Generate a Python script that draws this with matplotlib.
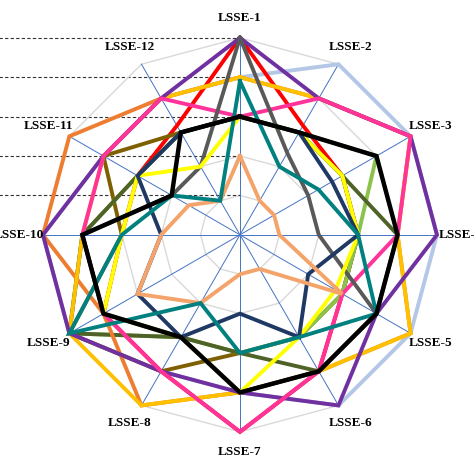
import numpy as np
import matplotlib
matplotlib.use("Agg")
import matplotlib.pyplot as plt

labels = ["LSSE-%d" % i for i in range(1, 13)]
levels = [1, 2, 3, 4, 5]

# one list per series, values on LSSE-1..LSSE-12
series = [
    ("#B4C7E7", [4, 5, 5, 5, 5, 5, 4, 4, 5, 5, 4, 4]),
    ("#FF0000", [5, 3.2, 3, 3, 3, 4, 5, 4, 4, 3, 3, 3.2]),
    ("#7F6000", [3, 3, 3, 3, 3, 3, 3, 4, 5, 3, 4, 3]),
    ("#8BC34A", [3, 3, 4, 3, 3, 3, 3, 3, 5, 4, 3, 3]),
    ("#4F6228", [3, 3, 3, 4, 4, 4, 3, 3, 5, 4, 3, 3]),
    ("#ED7D31", [4, 4, 5, 4, 5, 4, 4, 5, 4, 5, 5, 4]),
    ("#FFC000", [4, 4, 5, 4, 5, 4, 4, 5, 5, 4, 4, 4]),
    ("#7030A0", [5, 4, 5, 5, 4, 5, 4, 4, 5, 5, 4, 4]),
    ("#FF3399", [3, 4, 5, 4, 3, 4, 5, 4, 4, 4, 4, 4]),
    ("#595959", [5, 2.4, 2, 2, 4, 4, 4, 3, 4, 4, 2, 2]),
    ("#FFFF00", [3, 3, 3, 3, 2.8, 3, 4, 3, 4, 3, 3, 2]),
    ("#1F3864", [3, 3, 2.7, 3, 2, 3, 2, 3, 3, 2, 3, 3]),
    ("#F4A46A", [2, 1, 1, 1, 3, 1, 1, 2, 3, 2, 1.5, 1]),
    ("#00807F", [3.9, 2, 2.3, 3, 4, 3, 3, 2, 5, 3, 2, 1]),
    ("#000000", [3, 3, 4, 4, 4, 4, 4, 3, 4, 4, 2, 3]),
]

n = len(labels)
ang = np.pi / 2 - 2 * np.pi * np.arange(n) / n
ux, uy = np.cos(ang), np.sin(ang)

fig = plt.figure(figsize=(4.74, 4.74), dpi=100)
ax = fig.add_axes([0, 0, 1, 1])
ax.set_xlim(-6.09, 5.94)
ax.set_ylim(-6.07, 5.96)
ax.set_aspect("equal")
ax.axis("off")

# grid rings and spokes
for lv in levels:
    ax.plot(np.append(ux, ux[0]) * lv, np.append(uy, uy[0]) * lv, color="#D9D9D9", lw=1, zorder=1)
    ax.plot([-6.2, 0], [lv, lv], color="#333333", lw=0.8, ls=(0, (3, 2)), zorder=1)
for i in range(n):
    ax.plot([0, ux[i] * 5], [0, uy[i] * 5], color="#4472C4", lw=0.7, zorder=1)

for k, (col, vals) in enumerate(series):
    v = np.array(vals + vals[:1], dtype=float)
    lw = 3.2 if col == "#000000" else 2.8
    ax.plot(v * np.append(ux, ux[0]), v * np.append(uy, uy[0]), color=col, lw=lw,
            solid_joinstyle="miter", zorder=2 + k)

for i, lab in enumerate(labels):
    ax.text(ux[i] * 5.6, uy[i] * 5.5, lab, ha="center", va="center",
            fontsize=9.5, fontweight="bold", family="Liberation Serif", zorder=30)

fig.savefig("out.png", dpi=100)
